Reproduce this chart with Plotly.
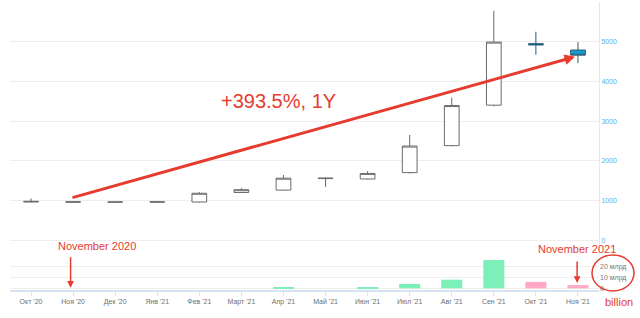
import plotly.graph_objects as go

months = ["Окт '20", "Ноя '20", "Дек '20", "Янв '21", "Фев '21", "Март '21", "Апр '21",
          "Май '21", "Июн '21", "Июл '21", "Авг '21", "Сен '21", "Окт '21", "Ноя '21"]
opens  = [960, 955, 955, 958, 960, 1200, 1260, 1550, 1540, 1700, 2380, 3400, 4950, 4790]
highs  = [1050, 975, 970, 968, 1210, 1310, 1640, 1575, 1740, 2650, 3590, 5780, 5250, 4990]
lows   = [950, 945, 948, 950, 950, 1190, 1250, 1340, 1530, 1680, 2360, 3370, 4670, 4460]
closes = [975, 962, 960, 962, 1180, 1270, 1560, 1560, 1680, 2370, 3390, 4990, 4920, 4660]
volume_bn = [0.0, 0.0, 0.0, 0.0, 0.0, 0.0, 0.6, 0.0, 1.2, 4.0, 7.8, 25.5, 5.8, 2.9]

price_ticks = [0, 1000, 2000, 3000, 4000, 5000, 6000]
price_labels = ["0", "1000", "2000", "3000", "4000", "5000", ""]
vol_ticks = [0, 10, 20, 30]
vol_labels = ["0", "10 млрд", "20 млрд", ""]

RED = "#e63b2e"
FONT = "Liberation Sans"
xs = list(range(len(months)))

fig = go.Figure()

# hollow candles (all but the last two)
n_main = len(months) - 2
fig.add_trace(go.Candlestick(
    x=xs[:n_main], open=opens[:n_main], high=highs[:n_main], low=lows[:n_main], close=closes[:n_main],
    increasing=dict(fillcolor="white", line=dict(color="#6a6a6a", width=1)),
    decreasing=dict(fillcolor="white", line=dict(color="#6a6a6a", width=1)),
    whiskerwidth=0, showlegend=False, hoverinfo="skip", xaxis="x", yaxis="y"))
# October 2021
fig.add_trace(go.Candlestick(
    x=[xs[12]], open=[opens[12]], high=[highs[12]], low=[lows[12]], close=[closes[12]],
    increasing=dict(fillcolor="#1d5d7c", line=dict(color="#1d5d7c", width=1)),
    decreasing=dict(fillcolor="#1d5d7c", line=dict(color="#1d5d7c", width=1)),
    whiskerwidth=0, showlegend=False, hoverinfo="skip", xaxis="x", yaxis="y"))
# November 2021
fig.add_trace(go.Candlestick(
    x=[xs[13]], open=[opens[13]], high=[highs[13]], low=[lows[13]], close=[closes[13]],
    increasing=dict(fillcolor="#129fd6", line=dict(color="#3a5b6c", width=1)),
    decreasing=dict(fillcolor="#129fd6", line=dict(color="#3a5b6c", width=1)),
    whiskerwidth=0, showlegend=False, hoverinfo="skip", xaxis="x", yaxis="y"))

vol_colors = ["#7defb8" if c >= o else "#ffa9c6" for o, c in zip(opens, closes)]
vol_colors[12] = "#ffa9c6"
vol_colors[13] = "#ffa9c6"
fig.add_trace(go.Bar(x=xs, y=volume_bn, marker=dict(color=vol_colors, line=dict(width=0)),
                     width=0.5, showlegend=False, hoverinfo="skip", xaxis="x", yaxis="y2"))

fig.update_layout(
    width=640, height=318,
    margin=dict(l=10, r=41, t=2, b=28),
    paper_bgcolor="white", plot_bgcolor="white",
    font=dict(family=FONT, size=7, color="#777777"),
    boxgap=0.5,
    xaxis=dict(range=[-0.5, 13.5], tickvals=xs, ticktext=months, showgrid=False,
               zeroline=False, showline=True, linecolor="#d6e3f1", linewidth=2,
               ticks="outside", ticklen=4, tickcolor="#d6e3f1",
               tickfont=dict(size=7, color="#6f6f6f"),
               rangeslider=dict(visible=False), anchor="y2", fixedrange=True),
    yaxis=dict(domain=[0.1285, 1.0], range=[-325, 6000], side="right",
               tickvals=price_ticks, ticktext=price_labels,
               showgrid=True, gridcolor="#eeeeee", gridwidth=1, zeroline=False,
               showline=True, linecolor="#e3e9f0", linewidth=1, mirror=False,
               tickfont=dict(size=7, color="#55b2e2"), ticks="", anchor="x"),
    yaxis2=dict(domain=[0.0, 0.1215], range=[-1.5, 30], side="right",
                tickvals=vol_ticks, ticktext=vol_labels,
                showgrid=True, gridcolor="#eeeeee", gridwidth=1, zeroline=False,
                showline=False, tickfont=dict(size=7, color="#777777"), ticks="", anchor="x"),
)

annotations = [
    dict(x=12.93, y=4620, xref="x", yref="y", ax=0.95, ay=1060, axref="x", ayref="y",
         showarrow=True, arrowhead=2, arrowsize=0.7, arrowwidth=3, arrowcolor=RED, text="",
         standoff=0, startstandoff=0),
    dict(x=5.87, y=3503, xref="x", yref="y", text="+393.5%, 1Y", showarrow=False,
         font=dict(size=20, color=RED, family=FONT)),
    dict(x=0.94, y=0.5, xref="x", yref="y2", ax=0, ay=-32, text="", showarrow=True,
         arrowhead=2, arrowsize=0.9, arrowwidth=1.5, arrowcolor=RED, standoff=0),
    dict(x=12.98, y=4.8, xref="x", yref="y2", ax=0, ay=-23, text="", showarrow=True,
         arrowhead=2, arrowsize=0.9, arrowwidth=1.5, arrowcolor=RED, standoff=0),
    dict(x=97, y=246, xref="paper", yref="paper", text="November 2020", showarrow=False,
         font=dict(size=11, color=RED, family=FONT)),
    dict(x=577, y=249, xref="paper", yref="paper", text="November 2021", showarrow=False,
         font=dict(size=11, color=RED, family=FONT)),
    dict(x=619, y=302, xref="paper", yref="paper", text="billion", showarrow=False,
         font=dict(size=11, color=RED, family=FONT)),
]
# convert pixel positions for text annotations to paper coords
for a in annotations:
    if a.get("xref") == "paper":
        a["x"] = (a["x"] - 10) / 589.0
        a["y"] = (290 - a["y"]) / 288.0
        a["xanchor"] = "center"
        a["yanchor"] = "middle"
fig.update_layout(annotations=annotations)

fig.add_shape(type="circle", xref="paper", yref="paper",
              x0=(592 - 10) / 589.0, x1=(634 - 10) / 589.0,
              y0=(290 - 291) / 288.0, y1=(290 - 255) / 288.0,
              line=dict(color=RED, width=1.5))

fig.write_html("out.html")
